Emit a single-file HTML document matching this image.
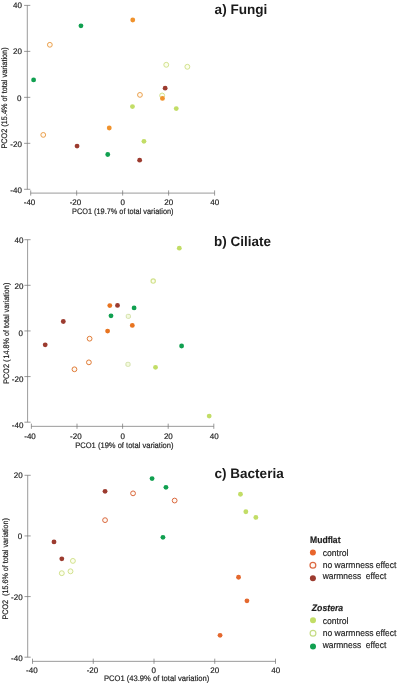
<!DOCTYPE html>
<html><head><meta charset="utf-8"><title>PCO plots</title>
<style>
html,body{margin:0;padding:0;background:#fff;}
svg{display:block;font-family:"Liberation Sans",Arial,Helvetica,sans-serif;text-rendering:geometricPrecision;}
</style></head>
<body>
<svg width="398" height="685" viewBox="0 0 398 685">
<rect width="398" height="685" fill="#fff"/>
<g fill="none" stroke="#747474" stroke-width="0.72"><path d="M27.3 5.4V189.3" /><path d="M24.10 5.40H30.30"/><path d="M24.10 51.38H30.30"/><path d="M24.10 97.35H30.30"/><path d="M24.10 143.33H30.30"/><path d="M24.10 189.30H30.30"/><path d="M30.7 193.1H214.6"/><path d="M30.70 190.40V195.60"/><path d="M76.67 190.40V195.60"/><path d="M122.65 190.40V195.60"/><path d="M168.62 190.40V195.60"/><path d="M214.60 190.40V195.60"/></g><g font-size="8.0" fill="#1c1c1c" stroke="#1c1c1c" stroke-width="0.18"><text x="21.9" y="7.86" text-anchor="end">40</text><text x="21.9" y="54.26" text-anchor="end">20</text><text x="21.5" y="100.66" text-anchor="end">0</text><text x="21.9" y="147.06" text-anchor="end">-20</text><text x="21.9" y="193.46" text-anchor="end">-40</text><text x="29.50" y="204.76" text-anchor="middle">-40</text><text x="75.47" y="204.76" text-anchor="middle">-20</text><text x="122.80" y="204.76" text-anchor="middle">0</text><text x="168.78" y="204.76" text-anchor="middle">20</text><text x="214.75" y="204.76" text-anchor="middle">40</text></g>
<g fill="none" stroke="#747474" stroke-width="0.72"><path d="M27.6 239.7V422.2" /><path d="M24.40 239.70H30.60"/><path d="M24.40 285.32H30.60"/><path d="M24.40 330.95H30.60"/><path d="M24.40 376.57H30.60"/><path d="M24.40 422.20H30.60"/><path d="M31.4 426.35H213.8"/><path d="M31.40 423.65V428.85"/><path d="M77.00 423.65V428.85"/><path d="M122.60 423.65V428.85"/><path d="M168.20 423.65V428.85"/><path d="M213.80 423.65V428.85"/></g><g font-size="8.0" fill="#1c1c1c" stroke="#1c1c1c" stroke-width="0.18"><text x="23.4" y="243.16" text-anchor="end">40</text><text x="23.4" y="289.44" text-anchor="end">20</text><text x="23.0" y="335.71" text-anchor="end">0</text><text x="23.4" y="381.99" text-anchor="end">-20</text><text x="23.4" y="428.26" text-anchor="end">-40</text><text x="30.00" y="439.16" text-anchor="middle">-40</text><text x="75.80" y="439.16" text-anchor="middle">-20</text><text x="122.75" y="439.16" text-anchor="middle">0</text><text x="168.35" y="439.16" text-anchor="middle">20</text><text x="214.15" y="439.16" text-anchor="middle">40</text></g>
<g fill="none" stroke="#747474" stroke-width="0.72"><path d="M27.7 475.3V657.2" /><path d="M24.50 475.30H30.70"/><path d="M24.50 535.93H30.70"/><path d="M24.50 596.57H30.70"/><path d="M24.50 657.20H30.70"/><path d="M32.5 661.35H275.5"/><path d="M32.50 658.65V663.85"/><path d="M93.25 658.65V663.85"/><path d="M154.00 658.65V663.85"/><path d="M214.75 658.65V663.85"/><path d="M275.50 658.65V663.85"/></g><g font-size="8.0" fill="#1c1c1c" stroke="#1c1c1c" stroke-width="0.18"><text x="22.6" y="477.96" text-anchor="end">20</text><text x="22.200000000000003" y="539.00" text-anchor="end">0</text><text x="22.6" y="600.03" text-anchor="end">-20</text><text x="22.6" y="661.06" text-anchor="end">-40</text><text x="31.90" y="672.66" text-anchor="middle">-40</text><text x="92.45" y="672.66" text-anchor="middle">-20</text><text x="153.85" y="672.66" text-anchor="middle">0</text><text x="214.70" y="672.66" text-anchor="middle">20</text><text x="275.75" y="672.66" text-anchor="middle">40</text></g>
<g font-size="8.0" fill="#1c1c1c" stroke="#1c1c1c" stroke-width="0.18" style="white-space:pre"><text x="72.1" y="214.1" textLength="101.40" lengthAdjust="spacingAndGlyphs">PCO1 (19.7% of total variation)</text><text transform="translate(7.2 148.6) rotate(-90)" textLength="101.20" lengthAdjust="spacingAndGlyphs">PCO2 (15.4% of total variation)</text><text x="75.25" y="448.1" textLength="98.25" lengthAdjust="spacingAndGlyphs">PCO1 (19% of total variation)</text><text transform="translate(9.2 383.7) rotate(-90)" textLength="101.00" lengthAdjust="spacingAndGlyphs">PCO2 (<tspan dx="1.1">14.8% of total variation)</tspan></text><text x="103.9" y="681.4" textLength="105.40" lengthAdjust="spacingAndGlyphs">PCO1 (43.9% of total variation)</text><text transform="translate(7.9 619.6) rotate(-90)" textLength="101.60" lengthAdjust="spacingAndGlyphs">PCO2&#160; (15.6% of total variation)</text></g>
<g font-size="13.7" font-weight="bold" fill="#1a1a1a"><text x="214.6" y="13.7" textLength="52.7" lengthAdjust="spacingAndGlyphs">a) Fungi</text><text x="214.0" y="245.7" textLength="56.9" lengthAdjust="spacingAndGlyphs">b) Ciliate</text><text x="214.5" y="478.1" textLength="69.2" lengthAdjust="spacingAndGlyphs">c) Bacteria</text></g>
<circle cx="166.25" cy="64.8" r="2.45" fill="#fcfeee" stroke="#D2E28E" stroke-width="1.0"/><circle cx="187.35" cy="66.8" r="2.45" fill="#fcfeee" stroke="#D2E28E" stroke-width="1.0"/><circle cx="162.15" cy="95.5" r="2.45" fill="#fcfeee" stroke="#D2E28E" stroke-width="1.0"/><circle cx="49.85" cy="44.8" r="2.4" fill="#fffaf4" stroke="#EBA04C" stroke-width="1.0"/><circle cx="139.95" cy="94.9" r="2.4" fill="#fffaf4" stroke="#EBA04C" stroke-width="1.0"/><circle cx="43.25" cy="134.9" r="2.4" fill="#fffaf4" stroke="#EBA04C" stroke-width="1.0"/><circle cx="132.45" cy="106.6" r="2.42" fill="#C2DD66" stroke="none"/><circle cx="176.25" cy="108.6" r="2.42" fill="#C2DD66" stroke="none"/><circle cx="143.95" cy="141.3" r="2.42" fill="#C2DD66" stroke="none"/><circle cx="33.6" cy="79.9" r="2.42" fill="#10A050" stroke="none"/><circle cx="80.95" cy="25.8" r="2.42" fill="#10A050" stroke="none"/><circle cx="107.75" cy="154.5" r="2.42" fill="#10A050" stroke="none"/><circle cx="165.15" cy="88.2" r="2.42" fill="#9C3B2F" stroke="none"/><circle cx="77.05" cy="146.1" r="2.42" fill="#9C3B2F" stroke="none"/><circle cx="139.65" cy="160.2" r="2.42" fill="#9C3B2F" stroke="none"/><circle cx="132.75" cy="20.0" r="2.42" fill="#F0922C" stroke="none"/><circle cx="162.45" cy="98.4" r="2.42" fill="#F0922C" stroke="none"/><circle cx="109.25" cy="128.0" r="2.42" fill="#F0922C" stroke="none"/>
<circle cx="153.2" cy="281.1" r="2.15" fill="#fcfeee" stroke="#D2E28E" stroke-width="1.2"/><rect x="126.25" y="314.35" width="4.2" height="4.0" rx="1.3" fill="#F4FADE" stroke="#D0DFA6" stroke-width="0.9"/><rect x="125.90" y="362.35" width="4.2" height="4.0" rx="1.3" fill="#F4FADE" stroke="#D0DFA6" stroke-width="0.9"/><circle cx="89.6" cy="338.7" r="2.4" fill="#fffaf4" stroke="#E07C38" stroke-width="1.0"/><circle cx="88.9" cy="362.35" r="2.4" fill="#fffaf4" stroke="#E07C38" stroke-width="1.0"/><circle cx="74.45" cy="369.3" r="2.4" fill="#fffaf4" stroke="#E07C38" stroke-width="1.0"/><circle cx="179.3" cy="248.2" r="2.42" fill="#C2DD66" stroke="none"/><circle cx="155.5" cy="367.3" r="2.42" fill="#C2DD66" stroke="none"/><circle cx="209.2" cy="416.1" r="2.42" fill="#C2DD66" stroke="none"/><circle cx="134.1" cy="307.9" r="2.42" fill="#10A050" stroke="none"/><circle cx="111.0" cy="315.8" r="2.42" fill="#10A050" stroke="none"/><circle cx="181.6" cy="346.0" r="2.42" fill="#10A050" stroke="none"/><circle cx="63.3" cy="321.5" r="2.42" fill="#9C3B2F" stroke="none"/><circle cx="45.2" cy="344.8" r="2.42" fill="#9C3B2F" stroke="none"/><circle cx="117.5" cy="305.4" r="2.42" fill="#9C3B2F" stroke="none"/><circle cx="109.8" cy="305.6" r="2.42" fill="#E87420" stroke="none"/><circle cx="107.6" cy="331.1" r="2.42" fill="#E87420" stroke="none"/><circle cx="132.3" cy="325.4" r="2.42" fill="#E87420" stroke="none"/>
<circle cx="72.9" cy="560.9" r="2.45" fill="#fcfeee" stroke="#D2E28E" stroke-width="1.0"/><circle cx="70.5" cy="571.3" r="2.45" fill="#fcfeee" stroke="#D2E28E" stroke-width="1.0"/><circle cx="61.8" cy="573.2" r="2.45" fill="#fcfeee" stroke="#D2E28E" stroke-width="1.0"/><circle cx="105.05" cy="520.15" r="2.4" fill="#fffaf4" stroke="#DA683E" stroke-width="1.0"/><circle cx="133.05" cy="493.35" r="2.4" fill="#fffaf4" stroke="#DA683E" stroke-width="1.0"/><circle cx="174.65" cy="500.55" r="2.4" fill="#fffaf4" stroke="#DA683E" stroke-width="1.0"/><circle cx="240.45" cy="494.25" r="2.42" fill="#C2DD66" stroke="none"/><circle cx="245.85" cy="511.75" r="2.42" fill="#C2DD66" stroke="none"/><circle cx="255.85" cy="517.45" r="2.42" fill="#C2DD66" stroke="none"/><circle cx="152.05" cy="478.55" r="2.42" fill="#10A050" stroke="none"/><circle cx="165.95" cy="487.35" r="2.42" fill="#10A050" stroke="none"/><circle cx="162.95" cy="537.35" r="2.42" fill="#10A050" stroke="none"/><circle cx="105.05" cy="491.3" r="2.42" fill="#9C3B2F" stroke="none"/><circle cx="54.0" cy="541.9" r="2.42" fill="#9C3B2F" stroke="none"/><circle cx="61.8" cy="558.8" r="2.42" fill="#9C3B2F" stroke="none"/><circle cx="238.55" cy="577.25" r="2.42" fill="#E4682E" stroke="none"/><circle cx="246.95" cy="600.85" r="2.42" fill="#E4682E" stroke="none"/><circle cx="220.05" cy="635.35" r="2.42" fill="#E4682E" stroke="none"/>
<g fill="#1e1e1e" font-size="9.2" style="white-space:pre" stroke="#1e1e1e" stroke-width="0.18"><text x="310.0" y="542.6" textLength="30.5" lengthAdjust="spacingAndGlyphs" font-weight="bold" font-size="9.4">Mudflat</text><circle cx="312.9" cy="552.4" r="3.0" fill="#E8652C" stroke="none"/><circle cx="312.9" cy="565.2" r="2.9" fill="#fffaf4" stroke="#DC6A44" stroke-width="1.25"/><circle cx="312.9" cy="578.2" r="3.0" fill="#9C3B2F" stroke="none"/><text x="322.7" y="555.5" textLength="25.8" lengthAdjust="spacingAndGlyphs" >control</text><text x="322.7" y="567.5" textLength="73.8" lengthAdjust="spacingAndGlyphs" >no warmness effect</text><text x="322.7" y="579.3" textLength="63.6" lengthAdjust="spacingAndGlyphs" >warmness&#160; effect</text><text x="311.8" y="610.6" textLength="31.4" lengthAdjust="spacingAndGlyphs" font-weight="bold" font-style="italic" font-size="9.4">Zostera</text><circle cx="313.0" cy="620.2" r="3.0" fill="#C2DD66" stroke="none"/><circle cx="313.0" cy="633.2" r="2.9" fill="#fefffa" stroke="#C6DC86" stroke-width="1.2"/><circle cx="313.0" cy="646.6" r="3.0" fill="#10A050" stroke="none"/><text x="322.7" y="623.7" textLength="25.8" lengthAdjust="spacingAndGlyphs" >control</text><text x="322.7" y="635.6" textLength="73.8" lengthAdjust="spacingAndGlyphs" >no warmness effect</text><text x="322.7" y="647.6" textLength="63.6" lengthAdjust="spacingAndGlyphs" >warmness&#160; effect</text></g>
</svg>
</body></html>
